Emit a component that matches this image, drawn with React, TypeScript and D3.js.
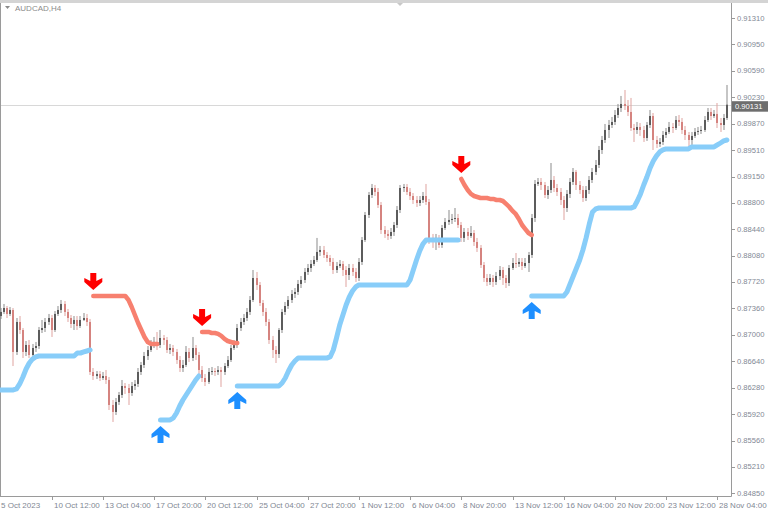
import * as d3 from 'd3';

// AUDCAD H4 candles, 5 Oct 2023 20:00 onwards (one entry per bar)
const open = [
  0.87257,0.87312,0.87366,0.87285,0.87339,0.86768,0.87176,0.87067,0.86768,0.86863,
  0.86727,0.86822,0.86849,0.87067,0.87094,0.87176,0.87230,0.87067,0.87285,0.87339,
  0.87421,0.87312,0.87230,0.87149,0.87203,0.87121,0.87203,0.87230,0.87176,0.86496,
  0.86441,0.86468,0.86414,0.86441,0.86387,0.86047,0.85952,0.86088,0.86183,0.86305,
  0.86278,0.86210,0.86305,0.86333,0.86496,0.86591,0.86713,0.86795,0.86863,0.86904,
  0.86863,0.86958,0.86931,0.86795,0.86822,0.86768,0.86659,0.86550,0.86591,0.86768,
  0.86686,0.86822,0.86727,0.86523,0.86414,0.86360,0.86496,0.86509,0.86496,0.86523,
  0.86496,0.86577,0.86659,0.86822,0.86863,0.87094,0.87176,0.87230,0.87312,0.87475,
  0.87774,0.87679,0.87434,0.87312,0.87176,0.86931,0.86795,0.86740,0.87067,0.87312,
  0.87393,0.87475,0.87557,0.87584,0.87693,0.87747,0.87856,0.87910,0.87965,0.88019,
  0.88128,0.88155,0.88087,0.88046,0.87992,0.87883,0.87937,0.87965,0.87883,0.87815,
  0.87910,0.87856,0.87774,0.87992,0.88291,0.88631,0.88903,0.88998,0.88944,0.88767,
  0.88427,0.88373,0.88346,0.88400,0.88495,0.88699,0.88998,0.89012,0.88944,0.88889,
  0.88835,0.88794,0.88835,0.88889,0.88808,0.88319,0.88264,0.88319,0.88223,0.88454,
  0.88536,0.88563,0.88577,0.88590,0.88495,0.88319,0.88400,0.88346,0.88386,0.88264,
  0.88183,0.87951,0.87774,0.87720,0.87774,0.87720,0.87801,0.87883,0.87774,0.87706,
  0.87910,0.87978,0.87965,0.87992,0.87937,0.87978,0.88087,0.88590,0.89053,0.89080,
  0.89039,0.88903,0.88971,0.89107,0.88998,0.88944,0.88835,0.88726,0.88917,0.89080,
  0.89216,0.89039,0.88971,0.88862,0.88971,0.89107,0.89216,0.89311,0.89515,0.89651,
  0.89787,0.89855,0.89896,0.89991,0.90086,0.90141,0.90113,0.90032,0.89814,0.89787,
  0.89828,0.89787,0.89678,0.89855,0.89977,0.89651,0.89597,0.89624,0.89719,0.89760,
  0.89828,0.89814,0.89923,0.89896,0.89787,0.89719,0.89651,0.89706,0.89760,0.89774,
  0.89787,0.89923,0.90032,0.89977,0.90005,0.89882,0.89855,0.89950
];
const high = [
  0.87366,0.87421,0.87393,0.87380,0.87366,0.87230,0.87257,0.87094,0.86917,0.86931,
  0.86877,0.86904,0.87108,0.87203,0.87230,0.87285,0.87271,0.87325,0.87393,0.87475,
  0.87461,0.87353,0.87271,0.87257,0.87257,0.87257,0.87298,0.87285,0.87217,0.86550,
  0.86509,0.86509,0.86496,0.86523,0.86428,0.86115,0.86142,0.86224,0.86387,0.86346,
  0.86333,0.86360,0.86387,0.86550,0.86632,0.86768,0.86849,0.86931,0.86972,0.87040,
  0.87067,0.86999,0.86972,0.86877,0.86863,0.86809,0.86713,0.86659,0.86849,0.86822,
  0.86972,0.86863,0.86768,0.86577,0.86468,0.86550,0.86564,0.86550,0.86577,0.86564,
  0.86618,0.86713,0.86863,0.86931,0.87149,0.87230,0.87285,0.87366,0.87529,0.87883,
  0.87856,0.87720,0.87475,0.87366,0.87217,0.86986,0.86849,0.87094,0.87353,0.87448,
  0.87529,0.87611,0.87638,0.87747,0.87801,0.87910,0.87965,0.88019,0.88074,0.88319,
  0.88210,0.88210,0.88128,0.88087,0.88046,0.87992,0.88019,0.88005,0.87937,0.87965,
  0.87965,0.87910,0.88046,0.88332,0.88672,0.88944,0.89053,0.89039,0.88998,0.88808,
  0.88481,0.88427,0.88454,0.88536,0.88753,0.89039,0.89053,0.89053,0.88998,0.88930,
  0.88889,0.88889,0.88944,0.89053,0.88849,0.88373,0.88373,0.88359,0.88495,0.88590,
  0.88699,0.88645,0.88726,0.88645,0.88536,0.88454,0.88454,0.88481,0.88427,0.88319,
  0.88223,0.87992,0.87829,0.87829,0.87815,0.87856,0.87937,0.87924,0.87815,0.87951,
  0.88046,0.88114,0.88046,0.88046,0.88046,0.88128,0.88645,0.89107,0.89134,0.89134,
  0.89080,0.89025,0.89338,0.89161,0.89053,0.88998,0.88889,0.88971,0.89134,0.89270,
  0.89243,0.89093,0.89025,0.89025,0.89161,0.89270,0.89379,0.89570,0.89706,0.89869,
  0.89923,0.89964,0.90059,0.90141,0.90250,0.90331,0.90195,0.90223,0.89869,0.89896,
  0.89882,0.89842,0.89896,0.90059,0.90018,0.89706,0.89678,0.89774,0.89814,0.89896,
  0.89882,0.89977,0.89991,0.89950,0.89842,0.89760,0.89760,0.89814,0.89828,0.89842,
  0.89977,0.90086,0.90086,0.90059,0.90154,0.89950,0.90005,0.90399
];
const low = [
  0.87217,0.87285,0.87230,0.87257,0.86577,0.86727,0.87013,0.86686,0.86713,0.86686,
  0.86686,0.86768,0.86809,0.87026,0.87040,0.87135,0.86972,0.87040,0.87257,0.87298,
  0.87257,0.87176,0.87094,0.87067,0.87067,0.87094,0.87189,0.87121,0.86455,0.86387,
  0.86400,0.86373,0.86387,0.86333,0.85979,0.85816,0.85911,0.86047,0.86142,0.86197,
  0.86047,0.86170,0.86251,0.86292,0.86455,0.86550,0.86659,0.86768,0.86822,0.86795,
  0.86822,0.86863,0.86754,0.86740,0.86713,0.86605,0.86496,0.86496,0.86564,0.86632,
  0.86645,0.86659,0.86468,0.86360,0.86305,0.86333,0.86455,0.86441,0.86455,0.86292,
  0.86455,0.86550,0.86632,0.86795,0.86822,0.87053,0.87135,0.87189,0.87271,0.87448,
  0.87611,0.87393,0.87257,0.87121,0.86877,0.86686,0.86618,0.86686,0.87026,0.87271,
  0.87353,0.87434,0.87502,0.87543,0.87638,0.87706,0.87815,0.87856,0.87937,0.87992,
  0.88074,0.88046,0.87992,0.87937,0.87829,0.87842,0.87910,0.87801,0.87652,0.87747,
  0.87801,0.87720,0.87733,0.87951,0.88264,0.88590,0.88862,0.88889,0.88726,0.88373,
  0.88319,0.88291,0.88305,0.88346,0.88454,0.88658,0.88944,0.88903,0.88835,0.88781,
  0.88740,0.88753,0.88794,0.88767,0.88237,0.88183,0.88155,0.88183,0.88183,0.88427,
  0.88495,0.88509,0.88536,0.88454,0.88264,0.88264,0.88291,0.88319,0.88210,0.88128,
  0.87910,0.87720,0.87665,0.87679,0.87652,0.87679,0.87747,0.87679,0.87638,0.87665,
  0.87883,0.87910,0.87924,0.87883,0.87910,0.87856,0.88046,0.88536,0.89025,0.88971,
  0.88862,0.88849,0.88930,0.88944,0.88889,0.88767,0.88563,0.88672,0.88862,0.89039,
  0.88971,0.88917,0.88808,0.88821,0.88917,0.89066,0.89175,0.89270,0.89461,0.89610,
  0.89678,0.89814,0.89855,0.89950,0.90032,0.90059,0.89977,0.89774,0.89624,0.89733,
  0.89706,0.89624,0.89638,0.89814,0.89515,0.89542,0.89556,0.89583,0.89678,0.89733,
  0.89746,0.89787,0.89842,0.89733,0.89651,0.89542,0.89583,0.89678,0.89719,0.89733,
  0.89760,0.89896,0.89923,0.89950,0.89814,0.89760,0.89787,0.89923
];
const close = [
  0.87312,0.87366,0.87285,0.87339,0.86768,0.87176,0.87067,0.86768,0.86863,0.86727,
  0.86822,0.86849,0.87067,0.87094,0.87176,0.87230,0.87067,0.87285,0.87339,0.87421,
  0.87312,0.87230,0.87149,0.87203,0.87121,0.87203,0.87230,0.87176,0.86496,0.86441,
  0.86468,0.86414,0.86441,0.86387,0.86047,0.85952,0.86088,0.86183,0.86305,0.86278,
  0.86210,0.86305,0.86333,0.86496,0.86591,0.86713,0.86795,0.86863,0.86904,0.86863,
  0.86958,0.86931,0.86795,0.86822,0.86768,0.86659,0.86550,0.86591,0.86768,0.86686,
  0.86822,0.86727,0.86523,0.86414,0.86360,0.86496,0.86509,0.86496,0.86523,0.86496,
  0.86577,0.86659,0.86822,0.86863,0.87094,0.87176,0.87230,0.87312,0.87475,0.87774,
  0.87679,0.87434,0.87312,0.87176,0.86931,0.86795,0.86740,0.87067,0.87312,0.87393,
  0.87475,0.87557,0.87584,0.87693,0.87747,0.87856,0.87910,0.87965,0.88019,0.88128,
  0.88155,0.88087,0.88046,0.87992,0.87883,0.87937,0.87965,0.87883,0.87815,0.87910,
  0.87856,0.87774,0.87992,0.88291,0.88631,0.88903,0.88998,0.88944,0.88767,0.88427,
  0.88373,0.88346,0.88400,0.88495,0.88699,0.88998,0.89012,0.88944,0.88889,0.88835,
  0.88794,0.88835,0.88889,0.88808,0.88319,0.88264,0.88319,0.88223,0.88454,0.88536,
  0.88563,0.88577,0.88590,0.88495,0.88319,0.88400,0.88346,0.88386,0.88264,0.88183,
  0.87951,0.87774,0.87720,0.87774,0.87720,0.87801,0.87883,0.87774,0.87706,0.87910,
  0.87978,0.87965,0.87992,0.87937,0.87978,0.88087,0.88590,0.89053,0.89080,0.89039,
  0.88903,0.88971,0.89107,0.88998,0.88944,0.88835,0.88726,0.88917,0.89080,0.89216,
  0.89039,0.88971,0.88862,0.88971,0.89107,0.89216,0.89311,0.89515,0.89651,0.89787,
  0.89855,0.89896,0.89991,0.90086,0.90141,0.90113,0.90032,0.89814,0.89787,0.89828,
  0.89787,0.89678,0.89855,0.89977,0.89651,0.89597,0.89624,0.89719,0.89760,0.89828,
  0.89814,0.89923,0.89896,0.89787,0.89719,0.89651,0.89706,0.89760,0.89774,0.89787,
  0.89923,0.90032,0.89977,0.90005,0.89882,0.89855,0.89950,0.90131
];

// trailing stop indicator, one value per bar from `start`
const upTrend = [
  { start: 0, values: [
    0.86251,0.86251,0.86251,0.86251,0.86251,0.86265,0.86333,0.86428,0.86536,0.86618,
    0.86672,0.86700,0.86713,0.86713,0.86713,0.86713,0.86713,0.86713,0.86713,0.86713,
    0.86713,0.86713,0.86713,0.86713,0.86754,0.86754,0.86768,0.86781,0.86795] },
  { start: 50, values: [
    0.85843,0.85843,0.85843,0.85843,0.85870,0.85938,0.86033,0.86115,0.86183,0.86251,
    0.86319,0.86387,0.86441] },
  { start: 74, values: [
    0.86305,0.86305,0.86305,0.86305,0.86305,0.86305,0.86305,0.86305,0.86305,0.86305,
    0.86305,0.86305,0.86305,0.86305,0.86346,0.86414,0.86509,0.86591,0.86645,0.86686,
    0.86686,0.86686,0.86686,0.86686,0.86686,0.86686,0.86686,0.86686,0.86686,0.86700,
    0.86795,0.86958,0.87135,0.87271,0.87407,0.87516,0.87597,0.87652,0.87679,0.87679,
    0.87679,0.87679,0.87679,0.87679,0.87679,0.87679,0.87679,0.87679,0.87679,0.87679,
    0.87679,0.87679,0.87679,0.87679,0.87747,0.87883,0.88019,0.88141,0.88237,0.88291,
    0.88291,0.88291,0.88291,0.88291,0.88291,0.88291,0.88291,0.88291,0.88291,0.88291] },
  { start: 166, values: [
    0.87529,0.87529,0.87529,0.87529,0.87529,0.87529,0.87529,0.87529,0.87529,0.87529,
    0.87529,0.87584,0.87693,0.87801,0.87910,0.88019,0.88155,0.88319,0.88509,0.88672,
    0.88713,0.88726,0.88726,0.88726,0.88726,0.88726,0.88726,0.88726,0.88726,0.88726,
    0.88726,0.88726,0.88740,0.88821,0.88917,0.89039,0.89148,0.89270,0.89365,0.89434,
    0.89488,0.89515,0.89529,0.89529,0.89529,0.89529,0.89529,0.89529,0.89529,0.89529,
    0.89556,0.89556,0.89556,0.89556,0.89556,0.89556,0.89556,0.89556,0.89583,0.89610,
    0.89638,0.89651] }
];
const downTrend = [
  { start: 29, values: [
    0.87529,0.87529,0.87529,0.87529,0.87529,0.87529,0.87529,0.87529,0.87529,0.87529,
    0.87529,0.87475,0.87380,0.87271,0.87162,0.87067,0.86972,0.86904,0.86877,0.86877,
    0.86877] },
  { start: 63, values: [
    0.87040,0.87040,0.87040,0.87026,0.87026,0.87013,0.86986,0.86945,0.86917,0.86904,
    0.86890,0.86890] },
  { start: 144, values: [
    0.89121,0.89039,0.88971,0.88917,0.88889,0.88876,0.88862,0.88862,0.88862,0.88849,
    0.88849,0.88835,0.88835,0.88821,0.88781,0.88740,0.88686,0.88645,0.88577,0.88495,
    0.88440,0.88386,0.88359] }
];
const sellSignals = [29, 63, 144];
const buySignals = [50, 74, 166];

const priceTicks = [
  0.91310, 0.90950, 0.90590, 0.90230, 0.89870, 0.89510, 0.89150, 0.88800, 0.88440, 0.88080,
  0.87720, 0.87360, 0.87000, 0.86640, 0.86280, 0.85920, 0.85560, 0.85210, 0.84850
];
const timeTickBars = [0, 16, 32, 48, 64, 80, 96, 112, 128, 144, 160, 176, 192, 208, 224];
const timeTickLabels = [
  '5 Oct 2023', '10 Oct 12:00', '13 Oct 04:00', '17 Oct 20:00', '20 Oct 12:00', '25 Oct 04:00',
  '27 Oct 20:00', '1 Nov 12:00', '6 Nov 04:00', '8 Nov 20:00', '13 Nov 12:00', '16 Nov 04:00',
  '20 Nov 20:00', '23 Nov 12:00', '28 Nov 04:00'
];
const lastPrice = 0.90131;
const symbolTitle = 'AUDCAD,H4';

const W = 768;
const H = 513;
const plotRight = 731;
const plotBottom = 496;
const font = '"Liberation Sans", Arial, sans-serif';
const axisColor = '#7f8894';

const x = d3.scaleLinear().domain([0, close.length - 1]).range([0.5, 726.9]);
const y = d3.scaleLinear().domain([0.8485, 0.9131]).range([493, 18]);

type Seg = { start: number; values: number[] };

function arrowPath(cx: number, tipY: number, dir: 1 | -1) {
  // dir 1 = pointing down (tip at bottom), -1 = pointing up
  const pts: [number, number][] = [
    [-3, 0], [3, 0], [3, 8], [9, 5], [9, 9], [0, 17], [-9, 9], [-9, 5], [-3, 8]
  ];
  const top = tipY - dir * 17;
  return 'M' + pts.map(([dx, dy]) => `${cx + dx},${top + dir * dy}`).join('L') + 'Z';
}

function segValue(segs: Seg[], bar: number) {
  const s = segs.find(sg => sg.start === bar);
  return s ? s.values[0] : 0;
}

const segPath = (seg: Seg) =>
  d3.line<number>()
    .x((_, i) => x(seg.start + i))
    .y(d => y(d))(seg.values) || '';

export default function App() {
  const lastY = y(lastPrice);

  return (
    <svg width={W} height={H} style={{ position: 'absolute', left: 0, top: 0, background: '#fff' }}
      fontFamily={font}>
      {/* frame */}
      <rect x={0} y={0} width={W} height={3} fill="#d4d4d4" />
      <line x1={0.5} y1={3} x2={0.5} y2={plotBottom} stroke="#9a9a9a" />
      <line x1={plotRight + 0.5} y1={3} x2={plotRight + 0.5} y2={plotBottom + 0.5} stroke="#9a9a9a" />
      <line x1={0} y1={plotBottom + 0.5} x2={plotRight + 0.5} y2={plotBottom + 0.5} stroke="#9a9a9a" />
      <path d="M397,3L403,3L400,6Z" fill="#c8c8c8" />

      {/* title */}
      <path d="M5,6L10,6L7.5,9Z" fill="#8a8a8a" />
      <text x={15} y={10.5} fontSize={8} fill="#8a8a8a">{symbolTitle}</text>

      {/* last price line */}
      <line x1={1} x2={plotRight} y1={Math.round(lastY) + 0.5} y2={Math.round(lastY) + 0.5} stroke="#d8d8d8" />

      {/* candles */}
      {close.map((c, i) => {
        const o = open[i];
        const bull = c >= o;
        const cx = Math.round(x(i));
        const top = y(Math.max(o, c));
        const bot = y(Math.min(o, c));
        const body = bull ? '#5c5c5c' : '#d5837f';
        const wick = bull ? '#8c8c8c' : '#e0a3a0';
        return (
          <g key={i}>
            <rect x={cx - 0.5} y={y(high[i])} width={1} height={Math.max(1, y(low[i]) - y(high[i]))} fill={wick} />
            <rect x={cx - 1} y={top} width={2} height={Math.max(1, bot - top)} fill={body} />
          </g>
        );
      })}

      {/* indicator lines */}
      {upTrend.map((s, i) => (
        <path key={'u' + i} d={segPath(s)} fill="none" stroke="#88cdf9" strokeWidth={5}
          strokeLinecap="round" strokeLinejoin="round" />
      ))}
      {downTrend.map((s, i) => (
        <path key={'d' + i} d={segPath(s)} fill="none" stroke="#f7806f" strokeWidth={4.5}
          strokeLinecap="round" strokeLinejoin="round" />
      ))}

      {/* signals */}
      {sellSignals.map(b => (
        <path key={'s' + b} d={arrowPath(x(b), y(segValue(downTrend, b)) - 6, 1)} fill="#ff0000" />
      ))}
      {buySignals.map(b => (
        <path key={'b' + b} d={arrowPath(x(b), y(segValue(upTrend, b)) + 6, -1)} fill="#1e8fff" />
      ))}

      {/* price axis */}
      {priceTicks.map(p => (
        <g key={p}>
          <line x1={plotRight + 1} x2={plotRight + 4} y1={Math.round(y(p)) + 0.5} y2={Math.round(y(p)) + 0.5}
            stroke="#9a9a9a" />
          <text x={plotRight + 6} y={y(p) + 2.5} fontSize={7.6} fill={axisColor}>{p.toFixed(5)}</text>
        </g>
      ))}
      <rect x={plotRight + 1} y={lastY - 3.5} width={36} height={10.5} fill="#6e6e6e" />
      <text x={plotRight + 4} y={lastY + 4.6} fontSize={7.6} fill="#ffffff">{lastPrice.toFixed(5)}</text>

      {/* time axis */}
      {timeTickBars.map((b, i) => {
        const tx = Math.round(x(b));
        return (
          <g key={b}>
            {i > 0 && <line x1={tx + 0.5} x2={tx + 0.5} y1={plotBottom} y2={plotBottom + 4} stroke="#9a9a9a" />}
            <text x={i === 0 ? 1 : tx + 2} y={507.5} fontSize={8} fill={axisColor}>{timeTickLabels[i]}</text>
          </g>
        );
      })}
    </svg>
  );
}
